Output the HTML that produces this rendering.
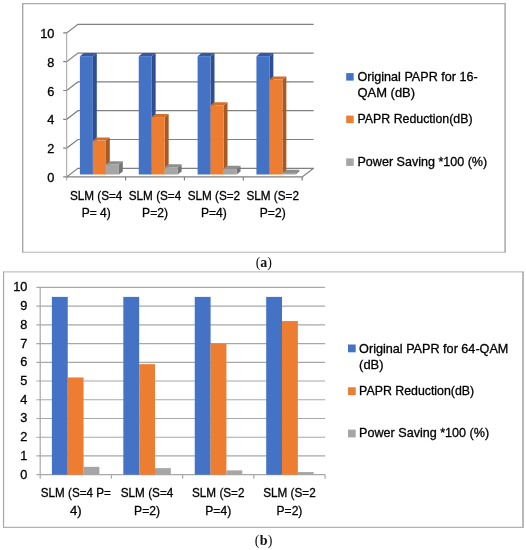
<!DOCTYPE html>
<html lang="en"><head><meta charset="utf-8"><title>PAPR charts</title>
<style>html,body{margin:0;padding:0;background:#fff}svg{display:block}</style></head>
<body>
<svg width="526" height="550" viewBox="0 0 526 550" font-family="Liberation Sans, sans-serif">
<rect width="526" height="550" fill="#fff"/>
<path d="M22.0 3.65H505.85" stroke="#ababab" stroke-width="1.3"/>
<path d="M22.0 252.25H505.85" stroke="#b4b4b4" stroke-width="1.1"/>
<path d="M22.7 3.65V252.25" stroke="#a8a8a8" stroke-width="1.4"/>
<path d="M505.1 3.65V252.25" stroke="#a8a8a8" stroke-width="1.5"/>
<g fill="none" stroke="#808080" stroke-width="1.2">
<path d="M63.2 176.90H66.7L77.9 168.30H313.6"/>
<path d="M63.2 148.10H66.7L77.9 139.50H313.6"/>
<path d="M63.2 119.30H66.7L77.9 110.70H313.6"/>
<path d="M63.2 90.50H66.7L77.9 81.90H313.6"/>
<path d="M63.2 61.70H66.7L77.9 53.10H313.6"/>
<path d="M63.2 32.90H66.7L77.9 24.30H313.6"/>
<path d="M66.7 32.90V180.5" stroke="#a0a0a0" stroke-width="1"/>
<path d="M66.7 176.9H302.2L313.6 168.3"/>
<path d="M125.57 176.9v3.6"/>
<path d="M184.44 176.9v3.6"/>
<path d="M243.31 176.9v3.6"/>
<path d="M302.18 176.9v3.6"/>
</g>
<path d="M92.90 56.17l3.9 -3.1V171.40L92.90 174.5Z" fill="#2E4F8F"/>
<path d="M79.90 56.17l3.9 -3.1h13.0l-3.9 3.1Z" fill="#3459A8"/>
<rect x="79.90" y="56.17" width="13.0" height="118.33" fill="#4472C4"/>
<path d="M105.90 140.59l3.9 -3.1V171.40L105.90 174.5Z" fill="#A85A22"/>
<path d="M92.90 140.59l3.9 -3.1h13.0l-3.9 3.1Z" fill="#D26F2B"/>
<rect x="92.90" y="140.59" width="13.0" height="33.91" fill="#ED7D31"/>
<path d="M118.90 164.40l3.9 -3.1V171.40L118.90 174.5Z" fill="#757575"/>
<path d="M105.90 164.40l3.9 -3.1h13.0l-3.9 3.1Z" fill="#8e8e8e"/>
<rect x="105.90" y="164.40" width="13.0" height="10.10" fill="#A5A5A5"/>
<path d="M151.75 56.17l3.9 -3.1V171.40L151.75 174.5Z" fill="#2E4F8F"/>
<path d="M138.75 56.17l3.9 -3.1h13.0l-3.9 3.1Z" fill="#3459A8"/>
<rect x="138.75" y="56.17" width="13.0" height="118.33" fill="#4472C4"/>
<path d="M164.75 117.07l3.9 -3.1V171.40L164.75 174.5Z" fill="#A85A22"/>
<path d="M151.75 117.07l3.9 -3.1h13.0l-3.9 3.1Z" fill="#D26F2B"/>
<rect x="151.75" y="117.07" width="13.0" height="57.43" fill="#ED7D31"/>
<path d="M177.75 167.28l3.9 -3.1V171.40L177.75 174.5Z" fill="#757575"/>
<path d="M164.75 167.28l3.9 -3.1h13.0l-3.9 3.1Z" fill="#8e8e8e"/>
<rect x="164.75" y="167.28" width="13.0" height="7.22" fill="#A5A5A5"/>
<path d="M210.60 56.17l3.9 -3.1V171.40L210.60 174.5Z" fill="#2E4F8F"/>
<path d="M197.60 56.17l3.9 -3.1h13.0l-3.9 3.1Z" fill="#3459A8"/>
<rect x="197.60" y="56.17" width="13.0" height="118.33" fill="#4472C4"/>
<path d="M223.60 105.24l3.9 -3.1V171.40L223.60 174.5Z" fill="#A85A22"/>
<path d="M210.60 105.24l3.9 -3.1h13.0l-3.9 3.1Z" fill="#D26F2B"/>
<rect x="210.60" y="105.24" width="13.0" height="69.26" fill="#ED7D31"/>
<path d="M236.60 168.73l3.9 -3.1V171.40L236.60 174.5Z" fill="#757575"/>
<path d="M223.60 168.73l3.9 -3.1h13.0l-3.9 3.1Z" fill="#8e8e8e"/>
<rect x="223.60" y="168.73" width="13.0" height="5.77" fill="#A5A5A5"/>
<path d="M269.45 56.17l3.9 -3.1V171.40L269.45 174.5Z" fill="#2E4F8F"/>
<path d="M256.45 56.17l3.9 -3.1h13.0l-3.9 3.1Z" fill="#3459A8"/>
<rect x="256.45" y="56.17" width="13.0" height="118.33" fill="#4472C4"/>
<path d="M282.45 79.55l3.9 -3.1V171.40L282.45 174.5Z" fill="#A85A22"/>
<path d="M269.45 79.55l3.9 -3.1h13.0l-3.9 3.1Z" fill="#D26F2B"/>
<rect x="269.45" y="79.55" width="13.0" height="94.95" fill="#ED7D31"/>
<path d="M295.45 172.91l3.9 -3.1V171.40L295.45 174.5Z" fill="#757575"/>
<path d="M282.45 172.91l3.9 -3.1h13.0l-3.9 3.1Z" fill="#8e8e8e"/>
<rect x="282.45" y="172.91" width="13.0" height="1.59" fill="#A5A5A5"/>
<text x="54.4" y="181.9" text-anchor="end" font-size="12.6" fill="#000" textLength="7.1" lengthAdjust="spacingAndGlyphs" stroke="#000" stroke-width="0.3">0</text>
<text x="54.4" y="153.1" text-anchor="end" font-size="12.6" fill="#000" textLength="7.1" lengthAdjust="spacingAndGlyphs" stroke="#000" stroke-width="0.3">2</text>
<text x="54.4" y="124.30000000000001" text-anchor="end" font-size="12.6" fill="#000" textLength="7.1" lengthAdjust="spacingAndGlyphs" stroke="#000" stroke-width="0.3">4</text>
<text x="54.4" y="95.5" text-anchor="end" font-size="12.6" fill="#000" textLength="7.1" lengthAdjust="spacingAndGlyphs" stroke="#000" stroke-width="0.3">6</text>
<text x="54.4" y="66.7" text-anchor="end" font-size="12.6" fill="#000" textLength="7.1" lengthAdjust="spacingAndGlyphs" stroke="#000" stroke-width="0.3">8</text>
<text x="54.4" y="37.900000000000006" text-anchor="end" font-size="12.6" fill="#000" textLength="14.2" lengthAdjust="spacingAndGlyphs" stroke="#000" stroke-width="0.3">10</text>
<text x="96.135" y="199.6" text-anchor="middle" font-size="12.6" fill="#000" textLength="52.5" lengthAdjust="spacingAndGlyphs" stroke="#000" stroke-width="0.3">SLM (S=4</text>
<text x="96.135" y="216.7" text-anchor="middle" font-size="12.6" fill="#000" textLength="29.02" lengthAdjust="spacingAndGlyphs" stroke="#000" stroke-width="0.3">P= 4)</text>
<text x="155.005" y="199.6" text-anchor="middle" font-size="12.6" fill="#000" textLength="52.5" lengthAdjust="spacingAndGlyphs" stroke="#000" stroke-width="0.3">SLM (S=4</text>
<text x="155.005" y="216.7" text-anchor="middle" font-size="12.6" fill="#000" textLength="25.85" lengthAdjust="spacingAndGlyphs" stroke="#000" stroke-width="0.3">P=2)</text>
<text x="213.875" y="199.6" text-anchor="middle" font-size="12.6" fill="#000" textLength="52.5" lengthAdjust="spacingAndGlyphs" stroke="#000" stroke-width="0.3">SLM (S=2</text>
<text x="213.875" y="216.7" text-anchor="middle" font-size="12.6" fill="#000" textLength="25.85" lengthAdjust="spacingAndGlyphs" stroke="#000" stroke-width="0.3">P=4)</text>
<text x="272.745" y="199.6" text-anchor="middle" font-size="12.6" fill="#000" textLength="52.5" lengthAdjust="spacingAndGlyphs" stroke="#000" stroke-width="0.3">SLM (S=2</text>
<text x="272.745" y="216.7" text-anchor="middle" font-size="12.6" fill="#000" textLength="25.85" lengthAdjust="spacingAndGlyphs" stroke="#000" stroke-width="0.3">P=2)</text>
<rect x="346.2" y="73.1" width="7.5" height="7.5" fill="#4472C4"/>
<rect x="346.2" y="115.6" width="7.5" height="7.5" fill="#ED7D31"/>
<rect x="346.2" y="158.4" width="7.5" height="7.5" fill="#A5A5A5"/>
<text x="357.5" y="80.7" text-anchor="start" font-size="12.6" fill="#000" textLength="120.17" lengthAdjust="spacingAndGlyphs" stroke="#000" stroke-width="0.3">Original PAPR for 16-</text>
<text x="357.5" y="97.3" text-anchor="start" font-size="12.6" fill="#000" textLength="57.56" lengthAdjust="spacingAndGlyphs" stroke="#000" stroke-width="0.3">QAM (dB)</text>
<text x="357.5" y="123.0" text-anchor="start" font-size="12.6" fill="#000" textLength="115.07" lengthAdjust="spacingAndGlyphs" stroke="#000" stroke-width="0.3">PAPR Reduction(dB)</text>
<text x="357.5" y="165.6" text-anchor="start" font-size="12.6" fill="#000" textLength="129.69" lengthAdjust="spacingAndGlyphs" stroke="#000" stroke-width="0.3">Power Saving *100 (%)</text>
<text x="263.8" y="267.4" text-anchor="middle" font-family="Liberation Serif, serif" font-size="14" fill="#111">(<tspan font-weight="bold">a</tspan>)</text>
<path d="M2.9499999999999997 271.8H523.8" stroke="#c2c2c2" stroke-width="1.2"/>
<path d="M2.9499999999999997 527.3H523.8" stroke="#9e9e9e" stroke-width="1.0"/>
<path d="M3.55 271.8V527.3" stroke="#a8a8a8" stroke-width="1.2"/>
<path d="M523.0 271.8V527.3" stroke="#a8a8a8" stroke-width="1.6"/>
<g fill="none" stroke="#a8a8a8" stroke-width="1.2">
<path d="M36.400000000000006 474.70H325.1"/>
<path d="M36.400000000000006 455.96H325.1"/>
<path d="M36.400000000000006 437.23H325.1"/>
<path d="M36.400000000000006 418.50H325.1"/>
<path d="M36.400000000000006 399.76H325.1"/>
<path d="M36.400000000000006 381.02H325.1"/>
<path d="M36.400000000000006 362.29H325.1"/>
<path d="M36.400000000000006 343.56H325.1"/>
<path d="M36.400000000000006 324.82H325.1"/>
<path d="M36.400000000000006 306.08H325.1"/>
<path d="M36.400000000000006 287.35H325.1"/>
<path d="M40.2 287.35V478.7"/>
<path d="M111.42 474.7v4"/>
<path d="M182.64 474.7v4"/>
<path d="M253.86 474.7v4"/>
<path d="M325.08 474.7v4"/>
</g>
<rect x="51.90" y="296.90" width="15.83" height="177.80" fill="#4472C4"/>
<rect x="67.73" y="377.47" width="15.83" height="97.23" fill="#ED7D31"/>
<rect x="83.56" y="466.83" width="15.83" height="7.87" fill="#A5A5A5"/>
<rect x="123.33" y="296.90" width="15.83" height="177.80" fill="#4472C4"/>
<rect x="139.16" y="364.16" width="15.83" height="110.54" fill="#ED7D31"/>
<rect x="154.99" y="468.14" width="15.83" height="6.56" fill="#A5A5A5"/>
<rect x="194.76" y="296.90" width="15.83" height="177.80" fill="#4472C4"/>
<rect x="210.59" y="343.56" width="15.83" height="131.14" fill="#ED7D31"/>
<rect x="226.42" y="470.39" width="15.83" height="4.31" fill="#A5A5A5"/>
<rect x="266.19" y="296.90" width="15.83" height="177.80" fill="#4472C4"/>
<rect x="282.02" y="321.07" width="15.83" height="153.63" fill="#ED7D31"/>
<rect x="297.85" y="472.08" width="15.83" height="2.62" fill="#A5A5A5"/>
<text x="27.4" y="478.7" text-anchor="end" font-size="12.6" fill="#000" textLength="7.1" lengthAdjust="spacingAndGlyphs" stroke="#000" stroke-width="0.3">0</text>
<text x="27.4" y="459.965" text-anchor="end" font-size="12.6" fill="#000" textLength="7.1" lengthAdjust="spacingAndGlyphs" stroke="#000" stroke-width="0.3">1</text>
<text x="27.4" y="441.23" text-anchor="end" font-size="12.6" fill="#000" textLength="7.1" lengthAdjust="spacingAndGlyphs" stroke="#000" stroke-width="0.3">2</text>
<text x="27.4" y="422.495" text-anchor="end" font-size="12.6" fill="#000" textLength="7.1" lengthAdjust="spacingAndGlyphs" stroke="#000" stroke-width="0.3">3</text>
<text x="27.4" y="403.76" text-anchor="end" font-size="12.6" fill="#000" textLength="7.1" lengthAdjust="spacingAndGlyphs" stroke="#000" stroke-width="0.3">4</text>
<text x="27.4" y="385.025" text-anchor="end" font-size="12.6" fill="#000" textLength="7.1" lengthAdjust="spacingAndGlyphs" stroke="#000" stroke-width="0.3">5</text>
<text x="27.4" y="366.28999999999996" text-anchor="end" font-size="12.6" fill="#000" textLength="7.1" lengthAdjust="spacingAndGlyphs" stroke="#000" stroke-width="0.3">6</text>
<text x="27.4" y="347.555" text-anchor="end" font-size="12.6" fill="#000" textLength="7.1" lengthAdjust="spacingAndGlyphs" stroke="#000" stroke-width="0.3">7</text>
<text x="27.4" y="328.82" text-anchor="end" font-size="12.6" fill="#000" textLength="7.1" lengthAdjust="spacingAndGlyphs" stroke="#000" stroke-width="0.3">8</text>
<text x="27.4" y="310.085" text-anchor="end" font-size="12.6" fill="#000" textLength="7.1" lengthAdjust="spacingAndGlyphs" stroke="#000" stroke-width="0.3">9</text>
<text x="27.4" y="291.35" text-anchor="end" font-size="12.6" fill="#000" textLength="14.2" lengthAdjust="spacingAndGlyphs" stroke="#000" stroke-width="0.3">10</text>
<text x="75.81" y="497.4" text-anchor="middle" font-size="12.6" fill="#000" textLength="69.88" lengthAdjust="spacingAndGlyphs" stroke="#000" stroke-width="0.3">SLM (S=4 P=</text>
<text x="75.81" y="514.7" text-anchor="middle" font-size="12.6" fill="#000" textLength="11.64" lengthAdjust="spacingAndGlyphs" stroke="#000" stroke-width="0.3">4)</text>
<text x="147.03" y="497.4" text-anchor="middle" font-size="12.6" fill="#000" textLength="52.5" lengthAdjust="spacingAndGlyphs" stroke="#000" stroke-width="0.3">SLM (S=4</text>
<text x="147.03" y="514.7" text-anchor="middle" font-size="12.6" fill="#000" textLength="25.85" lengthAdjust="spacingAndGlyphs" stroke="#000" stroke-width="0.3">P=2)</text>
<text x="218.25" y="497.4" text-anchor="middle" font-size="12.6" fill="#000" textLength="52.5" lengthAdjust="spacingAndGlyphs" stroke="#000" stroke-width="0.3">SLM (S=2</text>
<text x="218.25" y="514.7" text-anchor="middle" font-size="12.6" fill="#000" textLength="25.85" lengthAdjust="spacingAndGlyphs" stroke="#000" stroke-width="0.3">P=4)</text>
<text x="289.46999999999997" y="497.4" text-anchor="middle" font-size="12.6" fill="#000" textLength="52.5" lengthAdjust="spacingAndGlyphs" stroke="#000" stroke-width="0.3">SLM (S=2</text>
<text x="289.46999999999997" y="514.7" text-anchor="middle" font-size="12.6" fill="#000" textLength="25.85" lengthAdjust="spacingAndGlyphs" stroke="#000" stroke-width="0.3">P=2)</text>
<rect x="348.0" y="344.5" width="7.7" height="7.8" fill="#4472C4"/>
<rect x="348.0" y="387.3" width="7.7" height="7.8" fill="#ED7D31"/>
<rect x="348.0" y="429.6" width="7.7" height="7.8" fill="#A5A5A5"/>
<text x="359.1" y="352.6" text-anchor="start" font-size="12.6" fill="#000" textLength="149.29" lengthAdjust="spacingAndGlyphs" stroke="#000" stroke-width="0.3">Original PAPR for 64-QAM</text>
<text x="359.1" y="369.3" text-anchor="start" font-size="12.6" fill="#000" textLength="24.42" lengthAdjust="spacingAndGlyphs" stroke="#000" stroke-width="0.3">(dB)</text>
<text x="359.1" y="394.8" text-anchor="start" font-size="12.6" fill="#000" textLength="115.07" lengthAdjust="spacingAndGlyphs" stroke="#000" stroke-width="0.3">PAPR Reduction(dB)</text>
<text x="359.1" y="437.1" text-anchor="start" font-size="12.6" fill="#000" textLength="130.09" lengthAdjust="spacingAndGlyphs" stroke="#000" stroke-width="0.3">Power Saving *100 (%)</text>
<text x="263.7" y="544.8" text-anchor="middle" letter-spacing="0.3" font-family="Liberation Serif, serif" font-size="14" fill="#111">(<tspan font-weight="bold">b</tspan>)</text>
</svg>
</body></html>
